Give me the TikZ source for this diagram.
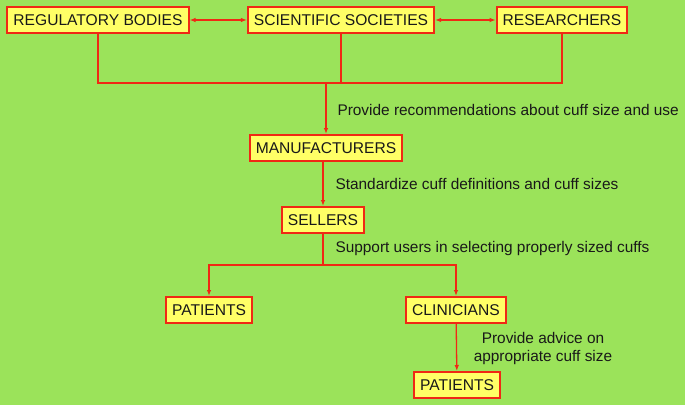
\documentclass[tikz,border=0pt]{standalone}
\usepackage{fontspec}
\setmainfont{Liberation Sans}
\usetikzlibrary{arrows.meta}
\definecolor{bggreen}{RGB}{155,227,90}
\definecolor{boxyellow}{RGB}{255,255,102}
\definecolor{linered}{RGB}{240,40,20}
\definecolor{inkdark}{RGB}{25,25,25}
\tikzset{
  actor/.style={draw=linered, line width=2pt, fill=boxyellow, text=inkdark, font=\fontsize{15.6}{18}\selectfont,
    inner xsep=6pt, minimum height=26pt, text height=11pt, text depth=0pt},
  link/.style={draw=linered, line width=1.3pt},
  tip/.style={-{Latex[length=6pt,width=4.5pt]}},
  note/.style={font=\fontsize{15.4}{18}\selectfont, text=inkdark, anchor=west}
}
\begin{document}
\begin{tikzpicture}[x=1pt, y=-1pt]
    \fill[bggreen] (0,0) rectangle (685,405);
    \useasboundingbox (0,0) rectangle (685,405);
    % top row
    \node[actor] (reg) at (98,20) {REGULATORY BODIES};
    \node[actor] (sci) at (341,20) {SCIENTIFIC SOCIETIES};
    \node[actor] (res) at (562,20) {RESEARCHERS};
    \draw[link, {Latex[length=6pt,width=4.5pt]}-{Latex[length=6pt,width=4.5pt]}] (reg) -- (sci);
    \draw[link, {Latex[length=6pt,width=4.5pt]}-{Latex[length=6pt,width=4.5pt]}] (sci) -- (res);
    \coordinate (join) at (326,83);
    \draw[link] (reg.south) |- (join) -| (res.south);
    \draw[link] (sci.south) -- (sci.south |- join);
    % chain downwards
    \node[actor] (man) at (326,148) {MANUFACTURERS};
    \draw[link, tip] (join) -- (man);
    \node[note] (rec) at (334,110) {Provide recommendations about cuff size and use};
    \node[actor] (sel) at (323,220) {SELLERS};
    \draw[link, tip] (man.south -| sel) -- (sel);
    \node[note] (std) at (332,184) {Standardize cuff definitions and cuff sizes};
    \coordinate (split) at (323,265);
    \node[note] (sup) at (332,249) {Support users in selecting properly sized cuffs};
    \node[actor] (pat) at (209,310) {PATIENTS};
    \node[actor] (cli) at (456,310) {CLINICIANS};
    \draw[link] (sel) -- (split);
    \draw[link, tip] (split) -| (pat);
    \draw[link, tip] (split) -| (cli);
    \node[actor] (pat2) at (457,385) {PATIENTS};
    \draw[link, tip] (cli) -- (pat2);
    \node[font=\fontsize{15.4}{18}\selectfont, text=inkdark, align=center] (adv) at (543,349) {Provide advice on\\appropriate cuff size};
\end{tikzpicture}
\end{document}
